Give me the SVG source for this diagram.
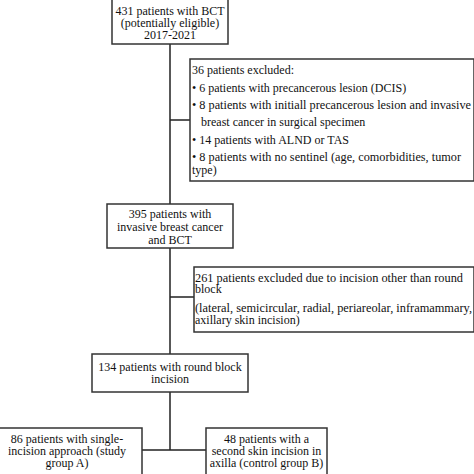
<svg xmlns="http://www.w3.org/2000/svg" width="474" height="474" viewBox="0 0 474 474">
<style>
.box{fill:#fff;stroke:#333;stroke-width:1.5}
.ln{fill:none;stroke:#222;stroke-width:1.5}
text{font-family:"Liberation Serif","Times New Roman",serif;font-size:12px;fill:#111}
.c{text-anchor:middle}
</style>
<rect width="474" height="474" fill="#fff"/>
<g id="connectors">
<path class="ln" d="M170 44V204M170 120H190M170 248V354M170 297H194M170 392V450M142 450H206"/>
</g>
<g id="n1"><rect class="box" x="112" y="-1" width="116" height="45"/>
<text class="c" x="170" y="15">431 patients with BCT</text>
<text class="c" x="170" y="27">(potentially eligible)</text>
<text class="c" x="170" y="39">2017-2021</text></g>
<g id="n2"><rect class="box" x="190" y="59" width="284" height="122"/>
<text x="192" y="74">36 patients excluded:</text>
<text x="192" y="92">• 6 patients with precancerous lesion (DCIS)</text>
<text x="192" y="109" textLength="279" lengthAdjust="spacingAndGlyphs">• 8 patients with initiall precancerous lesion and invasive</text>
<text x="201" y="126">breast cancer in surgical specimen</text>
<text x="192" y="144">• 14 patients with ALND or TAS</text>
<text x="192" y="161" textLength="269" lengthAdjust="spacingAndGlyphs">• 8 patients with no sentinel (age, comorbidities, tumor</text>
<text x="192" y="174">type)</text></g>
<g id="n3"><rect class="box" x="107" y="204" width="126" height="44"/>
<text class="c" x="170" y="218">395 patients with</text>
<text class="c" x="170" y="231">invasive breast cancer</text>
<text class="c" x="170" y="244">and BCT</text></g>
<g id="n4"><rect class="box" x="194" y="267" width="280" height="65"/>
<text x="195" y="282" textLength="268" lengthAdjust="spacingAndGlyphs">261 patients excluded due to incision other than round</text>
<text x="195" y="293">block</text>
<text x="195" y="312" textLength="277" lengthAdjust="spacingAndGlyphs">(lateral, semicircular, radial, periareolar, inframammary,</text>
<text x="195" y="324">axillary skin incision)</text></g>
<g id="n5"><rect class="box" x="92" y="354" width="156" height="38"/>
<text class="c" x="170" y="371">134 patients with round block</text>
<text class="c" x="170" y="383">incision</text></g>
<g id="n6"><rect class="box" x="-1" y="428" width="143" height="50"/>
<text class="c" x="67" y="443">86 patients with single-</text>
<text class="c" x="67" y="455">incision approach (study</text>
<text class="c" x="67" y="467">group A)</text></g>
<g id="n7"><rect class="box" x="206" y="428" width="121" height="50"/>
<text class="c" x="266.5" y="443">48 patients with a</text>
<text class="c" x="266.5" y="455">second skin incision in</text>
<text class="c" x="266.5" y="467">axilla (control group B)</text></g>
</svg>
